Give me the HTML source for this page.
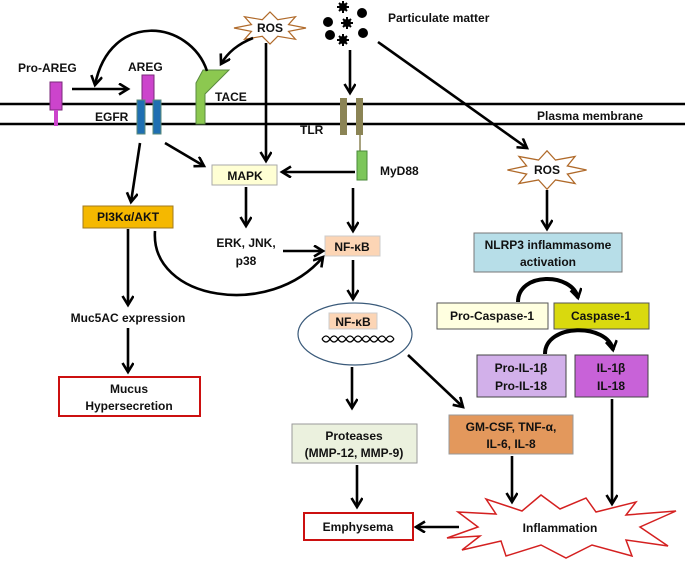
<!DOCTYPE html>
<html><head><meta charset="utf-8"><style>
body{margin:0;background:#fff}
svg{display:block}
text{font-family:"Liberation Sans",Arial,sans-serif;font-weight:bold;font-size:12px;fill:#111}
</style></head><body>
<svg width="685" height="561" viewBox="0 0 685 561" xmlns="http://www.w3.org/2000/svg">
<defs>
<marker id="a" markerUnits="userSpaceOnUse" markerWidth="14" markerHeight="14" refX="10" refY="6" orient="auto">
<path d="M1,0.5 L10,6 L1,11.5" fill="none" stroke="#000" stroke-width="2.6"/>
</marker>
<polygon id="star" points="36,0 18.5,3.4 25.5,11.3 7.7,8.3 0,16 -7.7,8.3 -25.5,11.3 -18.5,3.4 -36,0 -18.5,-3.4 -25.5,-11.3 -7.7,-8.3 0,-16 7.7,-8.3 25.5,-11.3 18.5,-3.4"/>
</defs>
<g stroke="#000" stroke-width="2.4" fill="none">
<line x1="0" y1="104" x2="685" y2="104"/>
<line x1="0" y1="124" x2="685" y2="124"/>
</g>
<text x="537" y="120" font-size="13">Plasma membrane</text>
<text x="388" y="22" font-size="13">Particulate matter</text>

<g fill="#000">
<circle cx="362" cy="13" r="5"/><circle cx="328" cy="22" r="5"/><circle cx="330" cy="35" r="5"/><circle cx="363" cy="33" r="5"/>
<circle cx="343" cy="7" r="4"/><circle cx="347" cy="23" r="4"/><circle cx="343" cy="40" r="4"/>
</g>
<g stroke="#000" stroke-width="2" >
<path d="M339,3l8,8M347,3l-8,8M343,1v12M337,7h12"/>
<path d="M343,19l8,8M351,19l-8,8M347,17v12M341,23h12"/>
<path d="M339,36l8,8M347,36l-8,8M343,34v12M337,40h12"/>
</g>

<use href="#star" transform="translate(270,28)" fill="#fff" stroke="#b06a2a" stroke-width="1.2"/>
<text x="270" y="32" text-anchor="middle" font-weight="normal">ROS</text>
<use href="#star" transform="translate(547,170) scale(1.1,1.2)" fill="#fff" stroke="#b06a2a" stroke-width="1.1"/>
<text x="547" y="174" text-anchor="middle" font-weight="normal">ROS</text>
<polygon points="447,538 478,527 458,512 496,514 486,499 522,511 541,495 560,509 586,498 596,512 636,502 626,515 676,511 640,527 668,546 626,540 632,556 592,545 566,558 541,545 506,556 501,541 462,550 480,536" fill="#fff" stroke="#d42020" stroke-width="1.5"/>
<text x="560" y="532" text-anchor="middle" font-size="13">Inflammation</text>

<rect x="50" y="82" width="12" height="28" fill="#cc44cc" stroke="#7a2a7a" stroke-width="1"/>
<rect x="54" y="110" width="4" height="16" fill="#cc44cc"/>
<rect x="142" y="75" width="12" height="28" fill="#cc44cc" stroke="#7a2a7a" stroke-width="1"/>
<rect x="137" y="100" width="8" height="34" fill="#1f6fb2" stroke="#5a8a7a" stroke-width="1"/>
<rect x="153" y="100" width="8" height="34" fill="#1f6fb2" stroke="#5a8a7a" stroke-width="1"/>
<polygon points="196,83 203,70 229,70 205,94 205,124 196,124" fill="#8cc850" stroke="#5a8a40" stroke-width="1"/>
<rect x="340" y="98" width="7" height="37" fill="#8b8455"/>
<rect x="356" y="98" width="7" height="37" fill="#8b8455"/>
<line x1="360" y1="135" x2="360" y2="151" stroke="#8b8455" stroke-width="1.5"/>
<rect x="357" y="151" width="10" height="29" fill="#7cc65a" stroke="#4a8a3a" stroke-width="1"/>

<text x="18" y="72" font-size="13">Pro-AREG</text>
<text x="128" y="71" font-size="13">AREG</text>
<text x="95" y="121" font-size="13">EGFR</text>
<text x="215" y="101" font-size="13">TACE</text>
<text x="300" y="134" font-size="13">TLR</text>
<text x="380" y="175">MyD88</text>

<rect x="83" y="206" width="90" height="22" fill="#f5b800" stroke="#a07a20"/>
<text x="128" y="221" text-anchor="middle">PI3Kα/AKT</text>
<rect x="212" y="165" width="65" height="20" fill="#ffffd4" stroke="#aaa"/>
<text x="245" y="180" text-anchor="middle">MAPK</text>
<text x="246" y="247" text-anchor="middle">ERK, JNK,</text>
<text x="246" y="265" text-anchor="middle">p38</text>
<rect x="325" y="236" width="55" height="20" fill="#fcd5b5" stroke="#ccc"/>
<text x="352" y="251" text-anchor="middle">NF-κB</text>
<rect x="474" y="233" width="148" height="39" fill="#b7dee8" stroke="#777"/>
<text x="548" y="249" text-anchor="middle">NLRP3 inflammasome</text>
<text x="548" y="266" text-anchor="middle">activation</text>
<ellipse cx="355" cy="334" rx="57" ry="31" fill="#fff" stroke="#3a5a7a" stroke-width="1.2"/>
<rect x="329" y="313" width="48" height="16" fill="#fcd5b5" stroke="#ccc"/>
<text x="353" y="326" text-anchor="middle">NF-κB</text>
<path d="M322,339 q4,-6 8,0 t8,0 t8,0 t8,0 t8,0 t8,0 t8,0 t8,0 t8,0 M322,339 q4,6 8,0 t8,0 t8,0 t8,0 t8,0 t8,0 t8,0 t8,0 t8,0" fill="none" stroke="#000" stroke-width="1.2"/>
<rect x="437" y="303" width="111" height="26" fill="#ffffe0" stroke="#555"/>
<text x="492" y="320" text-anchor="middle">Pro-Caspase-1</text>
<rect x="554" y="303" width="95" height="26" fill="#d9d90e" stroke="#555"/>
<text x="601" y="320" text-anchor="middle">Caspase-1</text>
<rect x="477" y="355" width="89" height="42" fill="#d2b0ea" stroke="#444"/>
<text x="521" y="372" text-anchor="middle">Pro-IL-1β</text>
<text x="521" y="390" text-anchor="middle">Pro-IL-18</text>
<rect x="575" y="355" width="73" height="42" fill="#c862d8" stroke="#444"/>
<text x="611" y="372" text-anchor="middle">IL-1β</text>
<text x="611" y="390" text-anchor="middle">IL-18</text>
<rect x="292" y="424" width="125" height="39" fill="#ebf1de" stroke="#999"/>
<text x="354" y="440" text-anchor="middle">Proteases</text>
<text x="354" y="457" text-anchor="middle">(MMP-12, MMP-9)</text>
<rect x="449" y="415" width="124" height="39" fill="#e3985c" stroke="#999"/>
<text x="511" y="431" text-anchor="middle">GM-CSF, TNF-α,</text>
<text x="511" y="448" text-anchor="middle">IL-6, IL-8</text>
<rect x="304" y="513" width="109" height="27" fill="#fff" stroke="#cc1010" stroke-width="2"/>
<text x="358" y="531" text-anchor="middle" font-size="13">Emphysema</text>
<text x="128" y="322" text-anchor="middle" font-size="13">Muc5AC expression</text>
<rect x="59" y="377" width="141" height="39" fill="#fff" stroke="#cc1010" stroke-width="2"/>
<text x="129" y="393" text-anchor="middle" font-size="13">Mucus</text>
<text x="129" y="410" text-anchor="middle" font-size="13">Hypersecretion</text>

<g stroke="#000" stroke-width="2.6" fill="none" marker-end="url(#a)">
<line x1="72" y1="89" x2="128" y2="89"/>
<path d="M207,71 C190,20 110,10 95,85"/>
<path d="M253,38 C238,44 228,52 221,64"/>
<line x1="266" y1="43" x2="266" y2="161"/>
<line x1="165" y1="143" x2="204" y2="166"/>
<line x1="140" y1="143" x2="131" y2="202"/>
<line x1="246" y1="187" x2="246" y2="226"/>
<line x1="283" y1="251" x2="323" y2="251"/>
<line x1="355" y1="172" x2="282" y2="172"/>
<line x1="350" y1="50" x2="350" y2="93"/>
<line x1="353" y1="188" x2="353" y2="231"/>
<path d="M155,231 C150,300 270,320 323,257"/>
<line x1="378" y1="42" x2="527" y2="148"/>
<line x1="547" y1="190" x2="547" y2="229"/>
<line x1="353" y1="260" x2="353" y2="299"/>
<line x1="352" y1="367" x2="352" y2="408"/>
<line x1="408" y1="355" x2="463" y2="407"/>
<line x1="357" y1="465" x2="357" y2="507"/>
<line x1="512" y1="456" x2="512" y2="502"/>
<line x1="612" y1="399" x2="612" y2="504"/>
<line x1="459" y1="527" x2="416" y2="527"/>
<line x1="128" y1="229" x2="128" y2="305"/>
<line x1="128" y1="328" x2="128" y2="372"/>
<path d="M518,302 C518,272 572,272 578,298" stroke-width="4"/>
<path d="M545,354 C545,323 608,323 613,350" stroke-width="4"/>
</g>
</svg>
</body></html>
